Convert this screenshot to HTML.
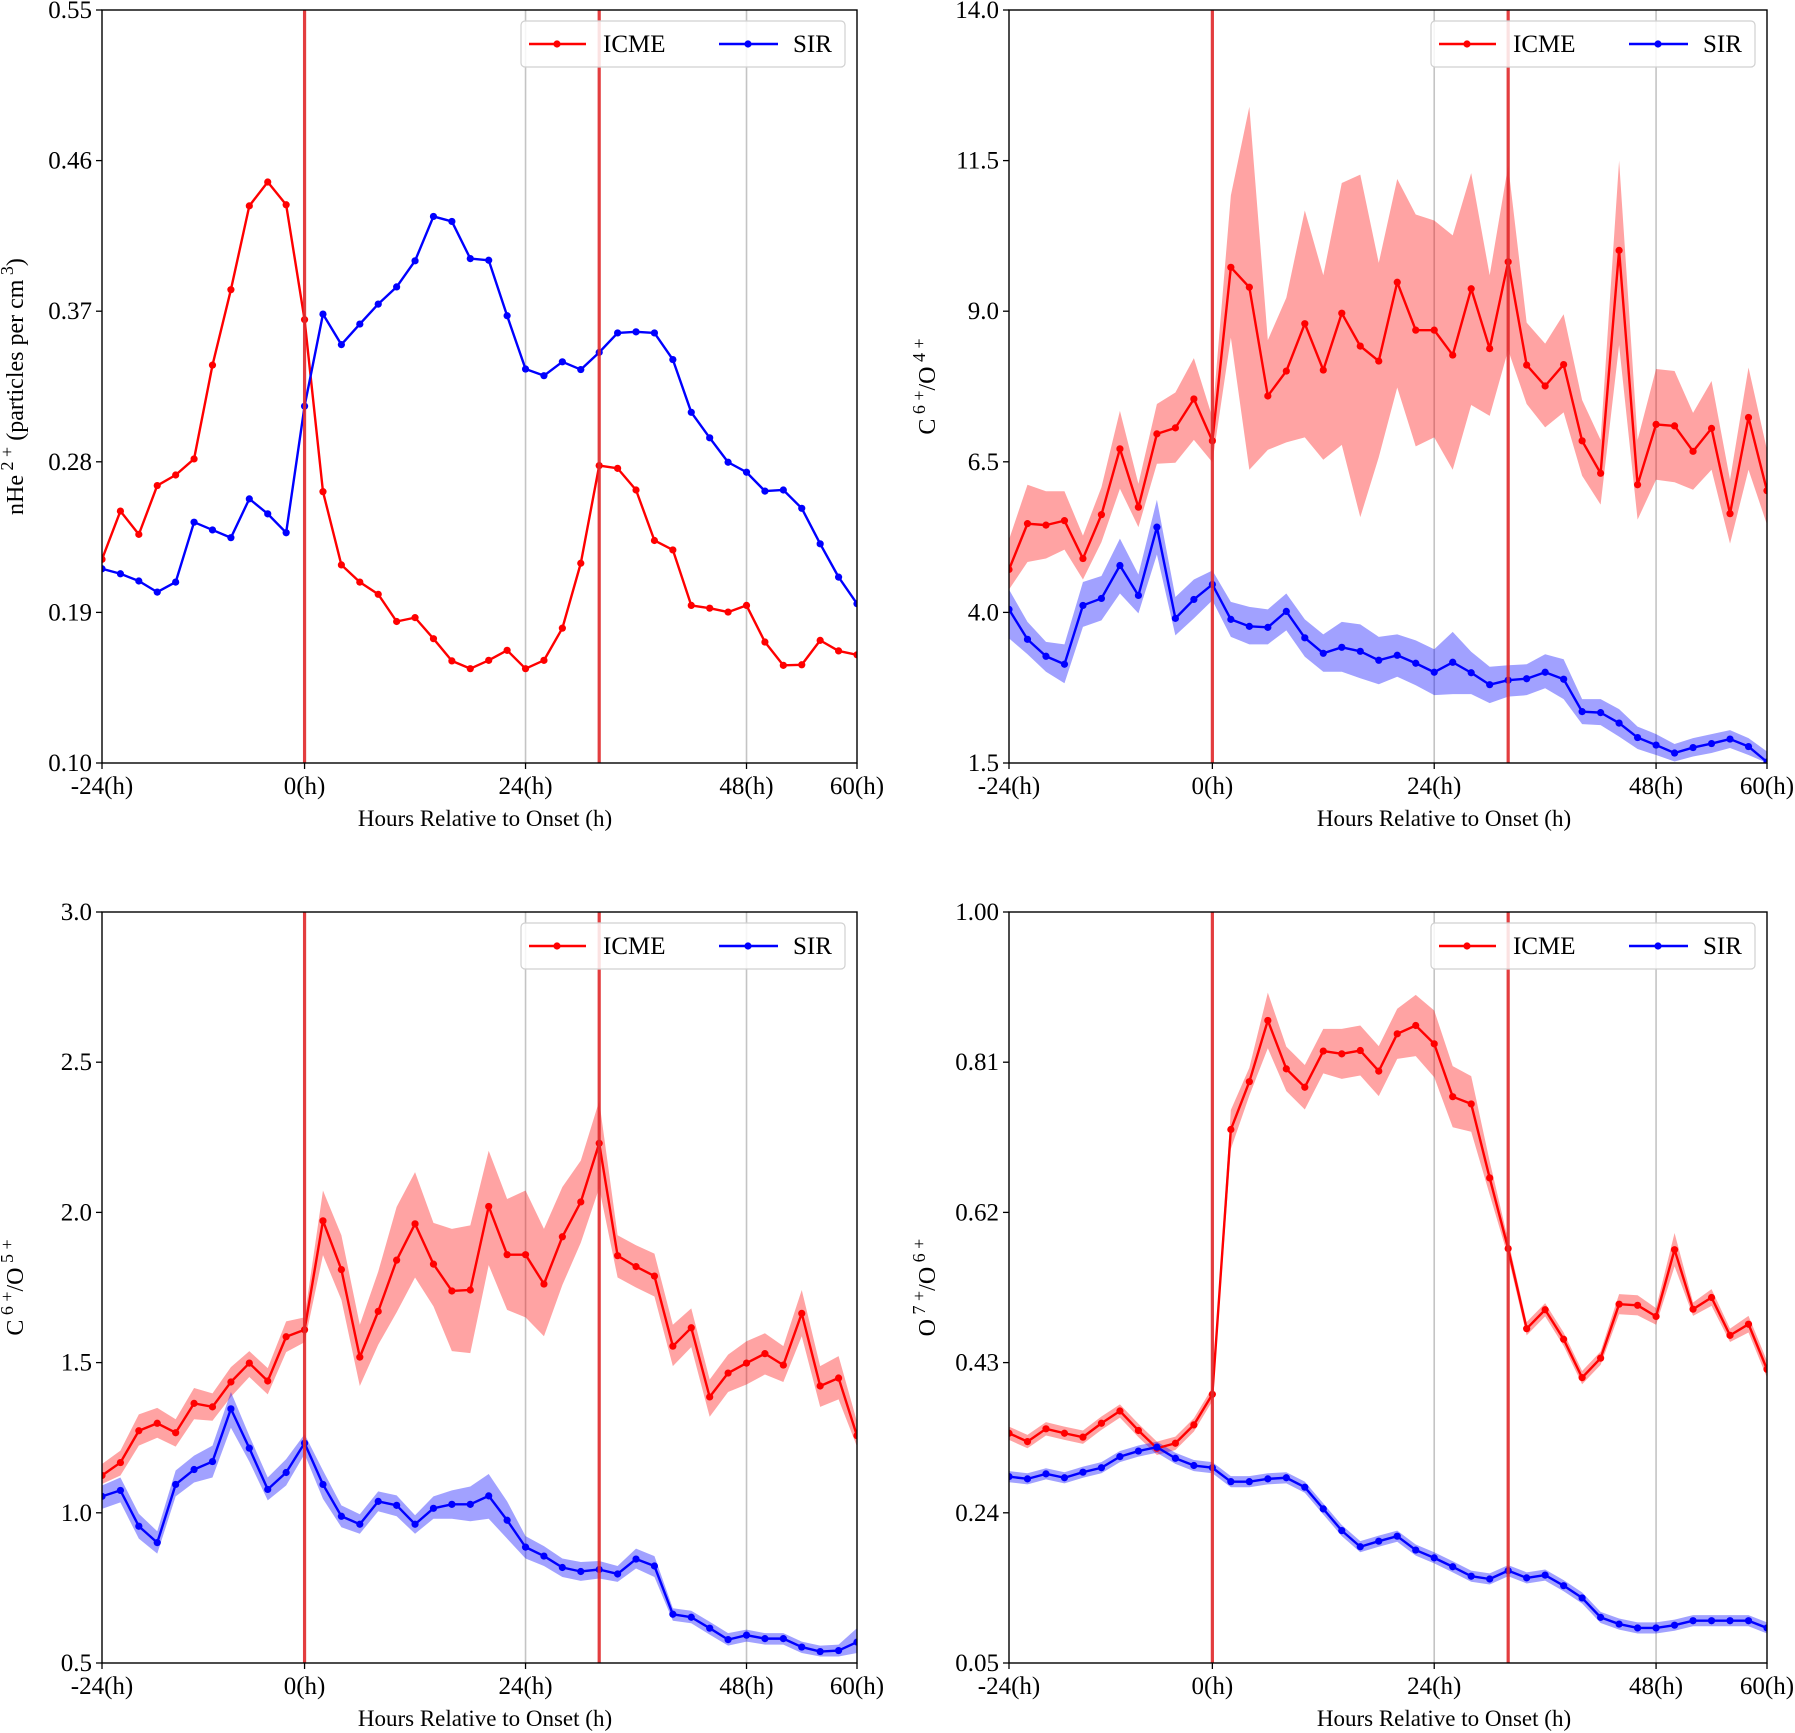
<!DOCTYPE html>
<html><head><meta charset="utf-8">
<style>
html,body{margin:0;padding:0;background:#fff;}
svg{display:block;}
text{font-family:"Liberation Serif","DejaVu Serif",serif;}
</style></head>
<body>
<svg id="s" width="1795" height="1733" viewBox="0 0 1795 1733" xmlns="http://www.w3.org/2000/svg" font-family="Liberation Serif, serif"></svg>
<script>
const NS="http://www.w3.org/2000/svg";
const S=document.getElementById('s');
function el(t,a,p){const e=document.createElementNS(NS,t);for(const k in a)e.setAttribute(k,a[k]);if(t==='text')e.setAttribute('font-family','Liberation Serif, serif');(p||S).appendChild(e);return e;}
const panels=[
{L:102,R:857,T:10,B:763,zy0:15,zy1:1372,xlc:485,ticks:["0.55","0.46","0.37","0.28","0.19","0.10"],
 ylab:[["nHe",0],["2+",1],[" (particles per cm",0],["3",1],[")",0]],
 icme:[1005,918,960,872,853,824,655,519,368,325,366,573,883,1015,1046,1068,1117,1110,1148,1188,1202,1187,1169,1202,1187,1129,1012,836,841,880,971,988,1088,1093,1100,1088,1154,1196,1195,1151,1170,1177],
 sir:[1022,1031,1044,1064,1046,938,952,966,896,923,957,729,563,618,581,545,514,467,387,396,463,466,566,662,674,649,663,632,597,595,597,645,740,786,830,848,882,880,913,977,1037,1085]},
{L:1009,R:1767,T:10,B:763,zy0:18,zy1:1528,xlc:1444,ticks:["14.0","11.5","9.0","6.5","4.0","1.5"],
 ylab:[["C",0],["6+",1],["/O",0],["4+",1]],
 icme:[[1140,1080,1180],[1048,970,1125],[1051,983,1118],[1042,983,1100],[1118,1072,1160],[1030,975,1085],[898,822,978],[1015,968,1055],[868,808,928],[856,785,926],[798,716,880],[882,835,925],[534,390,675],[574,212,940],[792,680,900],[742,595,885],[647,420,875],[740,550,920],[626,365,890],[692,348,1035],[722,525,915],[564,357,775],[660,428,893],[660,440,875],[710,470,940],[577,345,810],[697,550,832],[523,330,700],[730,645,808],[772,687,855],[729,628,825],[882,800,952],[947,880,1010],[500,320,690],[970,880,1040],[849,738,960],[852,742,965],[903,826,980],[857,762,940],[1028,960,1088],[835,735,940],[982,900,1050]],
 sir:[[1220,1180,1278],[1280,1245,1310],[1314,1285,1345],[1330,1290,1368],[1212,1165,1255],[1198,1153,1242],[1132,1078,1188],[1192,1150,1228],[1055,1000,1110],[1238,1195,1272],[1200,1160,1238],[1170,1142,1202],[1240,1205,1275],[1254,1215,1290],[1256,1220,1290],[1224,1188,1262],[1277,1240,1315],[1308,1270,1345],[1296,1245,1345],[1304,1250,1358],[1322,1275,1370],[1312,1270,1355],[1328,1282,1372],[1346,1300,1392],[1326,1265,1390],[1347,1305,1390],[1371,1335,1408],[1362,1332,1395],[1359,1330,1392],[1346,1310,1378],[1360,1320,1400],[1425,1400,1450],[1427,1400,1452],[1448,1420,1475],[1477,1455,1500],[1492,1470,1512],[1508,1490,1525],[1497,1478,1515],[1489,1470,1508],[1480,1462,1498],[1495,1478,1512],[1526,1505,1528]]},
{L:102,R:857,T:912,B:1663,zy0:25,zy1:1535,xlc:485,ticks:["3.0","2.5","2.0","1.5","1.0","0.5"],
 ylab:[["C",0],["6+",1],["/O",0],["5+",1]],
 icme:[[1158,1135,1175],[1132,1108,1158],[1068,1035,1098],[1053,1022,1082],[1072,1045,1100],[1013,982,1045],[1020,993,1048],[970,940,1000],[932,908,960],[968,942,995],[879,848,910],[865,840,890],[646,585,715],[744,675,805],[920,855,978],[828,748,895],[725,618,830],[652,548,760],[733,650,818],[787,662,908],[785,655,912],[617,505,735],[714,602,825],[714,585,840],[773,662,878],[678,578,775],[608,525,690],[490,405,580],[716,675,760],[738,695,780],[757,712,798],[898,855,938],[861,822,900],[1000,965,1040],[952,915,990],[932,888,975],[913,872,955],[936,898,970],[832,785,878],[978,938,1020],[962,918,1005],[1078,1050,1100]],
 sir:[[1200,1178,1225],[1188,1162,1212],[1260,1235,1285],[1293,1270,1315],[1176,1148,1200],[1146,1118,1172],[1130,1098,1162],[1024,990,1062],[1103,1078,1130],[1186,1162,1208],[1152,1125,1178],[1093,1075,1115],[1176,1148,1205],[1240,1218,1262],[1256,1236,1275],[1210,1190,1230],[1218,1198,1240],[1256,1238,1275],[1224,1200,1245],[1216,1188,1245],[1216,1180,1250],[1199,1155,1245],[1248,1210,1285],[1302,1280,1325],[1320,1300,1340],[1343,1325,1362],[1351,1332,1370],[1347,1330,1365],[1356,1340,1372],[1326,1305,1345],[1340,1320,1362],[1437,1425,1450],[1443,1430,1455],[1465,1452,1478],[1488,1475,1500],[1479,1468,1492],[1486,1475,1498],[1486,1475,1498],[1503,1492,1515],[1512,1500,1522],[1510,1498,1522],[1493,1465,1515]]},
{L:1009,R:1767,T:912,B:1663,zy0:93,zy1:1443,xlc:1444,ticks:["1.00","0.81","0.62","0.43","0.24","0.05"],
 ylab:[["O",0],["7+",1],["/O",0],["6+",1]],
 icme:[1030,1045,1022,1030,1037,1012,990,1025,1057,1048,1015,960,484,398,288,375,408,343,348,342,379,312,297,330,425,438,571,698,842,808,861,930,895,798,800,820,700,807,786,854,834,915],
 ih:[12,12,12,12,12,12,12,12,12,12,12,12,35,25,50,40,40,40,45,45,45,45,55,60,55,50,30,15,12,12,12,12,12,18,18,15,30,12,15,12,15,15],
 sir:[1108,1112,1103,1110,1100,1092,1072,1062,1055,1075,1088,1092,1117,1117,1112,1110,1127,1166,1205,1234,1224,1215,1240,1254,1270,1287,1292,1277,1290,1285,1304,1326,1361,1373,1380,1380,1375,1367,1367,1367,1367,1380]}
];
(function(){const p=panels[3];p.icme=p.icme.map((v,i)=>[v,v-p.ih[i],v+p.ih[i]]);p.sir=p.sir.map(v=>[v,v-10,v+10]);})();

panels.forEach((p,pi)=>{
  const X=i=>p.L+i*(p.R-p.L)/41;
  const Y=z=>p.T+(z-p.zy0)/(p.zy1-p.zy0)*(p.B-p.T);
  const clip=el('clipPath',{id:'c'+pi});
  el('rect',{x:p.L,y:p.T,width:p.R-p.L,height:p.B-p.T},clip);
  const g=el('g',{'clip-path':'url(#c'+pi+')'});
  [23,35].forEach(i=>el('line',{x1:X(i),x2:X(i),y1:p.T,y2:p.B,stroke:'#c4c4c4','stroke-width':1.6},g));
  const series=[[p.icme,'#ff0000','rgba(255,0,0,0.36)'],[p.sir,'#0000ff','rgba(0,0,255,0.37)']];
  series.forEach(([d,c,f])=>{
    if(Array.isArray(d[0])){
      let pts=d.map((v,i)=>X(i)+','+Y(v[1])).concat(d.map((v,i)=>[X(i),Y(v[2])]).reverse().map(a=>a[0]+','+a[1]));
      el('polygon',{points:pts.join(' '),fill:f,stroke:'none'},g);
    }
  });
  series.forEach(([d,c])=>{
    const vals=d.map(v=>Array.isArray(v)?v[0]:v);
    el('polyline',{points:vals.map((v,i)=>X(i)+','+Y(v)).join(' '),fill:'none',stroke:c,'stroke-width':2.4,'stroke-linejoin':'round'},g);
    vals.forEach((v,i)=>el('circle',{cx:X(i),cy:Y(v),r:3.6,fill:c},g));
  });
  [11,27].forEach(i=>el('line',{x1:X(i),x2:X(i),y1:p.T,y2:p.B,stroke:'#e0282a','stroke-width':3.2,'stroke-opacity':0.9},g));
  el('rect',{x:p.L,y:p.T,width:p.R-p.L,height:p.B-p.T,fill:'none',stroke:'#000','stroke-width':1.4});
  p.ticks.forEach((t,k)=>{
    const y=p.T+k*(p.B-p.T)/5;
    el('line',{x1:p.L-6,x2:p.L,y1:y,y2:y,stroke:'#000','stroke-width':1.3});
    const tx=el('text',{x:p.L-10,y:y+8,'text-anchor':'end','font-size':25,fill:'#000'});tx.textContent=t;
  });
  [[0,'-24(h)'],[11,'0(h)'],[23,'24(h)'],[35,'48(h)'],[41,'60(h)']].forEach(([i,t])=>{
    el('line',{x1:X(i),x2:X(i),y1:p.B,y2:p.B+6,stroke:'#000','stroke-width':1.3});
    const tx=el('text',{x:X(i),y:p.B+31,'text-anchor':'middle','font-size':25,fill:'#000'});tx.textContent=t;
  });
  const xl=el('text',{x:p.xlc,y:p.B+63,'text-anchor':'middle','font-size':23,fill:'#000'});xl.textContent='Hours Relative to Onset (h)';
  const yx=p.L-(pi%2==0?79:74), yy=(p.T+p.B)/2;
  const yl=el('text',{x:yx,y:yy,'text-anchor':'middle','font-size':24,fill:'#000',transform:'rotate(-90 '+yx+' '+yy+')'});
  p.ylab.forEach(([s,sup])=>{const ts=el('tspan',sup?{'baseline-shift':'super','font-size':18}:{},yl);ts.textContent=sup?' '+s.split('').join(' '):s;});
  const lx=p.R-336, ly=p.T+11;
  el('rect',{x:lx,y:ly,width:324,height:46,rx:4,fill:'#fff','fill-opacity':0.85,stroke:'#d0d0d0','stroke-width':1.2});
  const cy=ly+23;
  el('line',{x1:lx+8,x2:lx+65,y1:cy,y2:cy,stroke:'#ff0000','stroke-width':2.4});
  el('circle',{cx:lx+36,cy:cy,r:3.6,fill:'#ff0000'});
  let t1=el('text',{x:lx+82,y:cy+8,'font-size':25,fill:'#000'});t1.textContent='ICME';
  el('line',{x1:lx+198,x2:lx+257,y1:cy,y2:cy,stroke:'#0000ff','stroke-width':2.4});
  el('circle',{cx:lx+227,cy:cy,r:3.6,fill:'#0000ff'});
  let t2=el('text',{x:lx+272,y:cy+8,'font-size':25,fill:'#000'});t2.textContent='SIR';
});
</script>
</body></html>
